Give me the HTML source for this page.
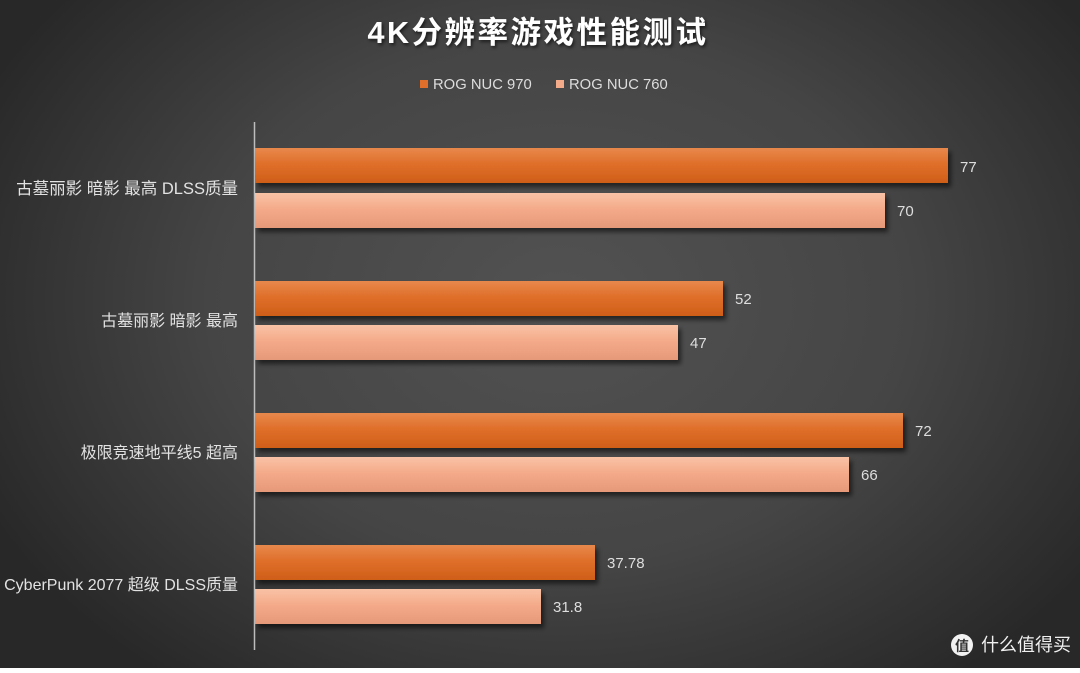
<!DOCTYPE html>
<html><head><meta charset="utf-8">
<style>
html,body{margin:0;padding:0;}
body{width:1080px;height:668px;overflow:hidden;}
svg text{font-family:"Liberation Sans","Noto Sans CJK SC",sans-serif;}
</style></head>
<body>
<svg width="1080" height="668" viewBox="0 0 1080 668" xmlns="http://www.w3.org/2000/svg">
<defs>
<radialGradient id="bg" cx="560" cy="300" r="640" gradientUnits="userSpaceOnUse" gradientTransform="translate(560 300) scale(1 0.75) translate(-560 -300)">
<stop offset="0" stop-color="#525252"/>
<stop offset="0.55" stop-color="#454545"/>
<stop offset="1" stop-color="#282828"/>
</radialGradient>
<linearGradient id="og" x1="0" y1="0" x2="0" y2="1">
<stop offset="0" stop-color="#e8884c"/>
<stop offset="0.45" stop-color="#df6f2a"/>
<stop offset="1" stop-color="#cf5e18"/>
</linearGradient>
<linearGradient id="pg" x1="0" y1="0" x2="0" y2="1">
<stop offset="0" stop-color="#f9c2a6"/>
<stop offset="0.45" stop-color="#f4ab8a"/>
<stop offset="1" stop-color="#e69878"/>
</linearGradient>
<filter id="sh" x="-5%" y="-30%" width="115%" height="170%">
<feDropShadow dx="3" dy="4" stdDeviation="2.5" flood-color="#000" flood-opacity="0.55"/>
</filter>
<filter id="tsh" x="-5%" y="-30%" width="110%" height="160%">
<feDropShadow dx="1.5" dy="2" stdDeviation="1.5" flood-color="#000" flood-opacity="0.6"/>
</filter>
</defs>
<rect width="1080" height="668" fill="url(#bg)"/>

<text x="538" y="43" text-anchor="middle" font-size="30.5" font-weight="bold" fill="#ffffff" letter-spacing="2.5" filter="url(#tsh)">4K分辨率游戏性能测试</text>

<rect x="420" y="80" width="8" height="8" fill="#df6f2a"/>
<text x="433" y="89" font-size="14.8" fill="#dddddd">ROG NUC 970</text>
<rect x="556" y="80" width="8" height="8" fill="#f4ab8a"/>
<text x="569" y="89" font-size="14.8" fill="#dddddd">ROG NUC 760</text>

<line x1="254.5" y1="122" x2="254.5" y2="650" stroke="#bdbdbd" stroke-width="1.5"/>

<g filter="url(#sh)">
<rect x="255" y="148" width="693" height="35" fill="url(#og)"/>
<rect x="255" y="193" width="630" height="35" fill="url(#pg)"/>
<rect x="255" y="281" width="468" height="35" fill="url(#og)"/>
<rect x="255" y="325" width="423" height="35" fill="url(#pg)"/>
<rect x="255" y="413" width="648" height="35" fill="url(#og)"/>
<rect x="255" y="457" width="594" height="35" fill="url(#pg)"/>
<rect x="255" y="545" width="340" height="35" fill="url(#og)"/>
<rect x="255" y="589" width="286" height="35" fill="url(#pg)"/>
</g>

<g font-size="15" fill="#dedede">
<text x="960" y="172">77</text>
<text x="897" y="216">70</text>
<text x="735" y="304">52</text>
<text x="690" y="348">47</text>
<text x="915" y="436">72</text>
<text x="861" y="480">66</text>
<text x="607" y="568">37.78</text>
<text x="553" y="612">31.8</text>
</g>

<g font-size="16" fill="#e2e2e2" text-anchor="end">
<text x="238" y="194" font-size="16.5">古墓丽影 暗影 最高 DLSS质量</text>
<text x="238" y="326">古墓丽影 暗影 最高</text>
<text x="238" y="458">极限竞速地平线5 超高</text>
<text x="238" y="590">CyberPunk 2077 超级 DLSS质量</text>
</g>

<circle cx="962" cy="645" r="11" fill="#f2f2f2"/>
<text x="962" y="651" font-size="14" font-weight="bold" fill="#333" text-anchor="middle">值</text>
<text x="981" y="651" font-size="18" fill="#f0f0f0">什么值得买</text>
</svg>
</body></html>
